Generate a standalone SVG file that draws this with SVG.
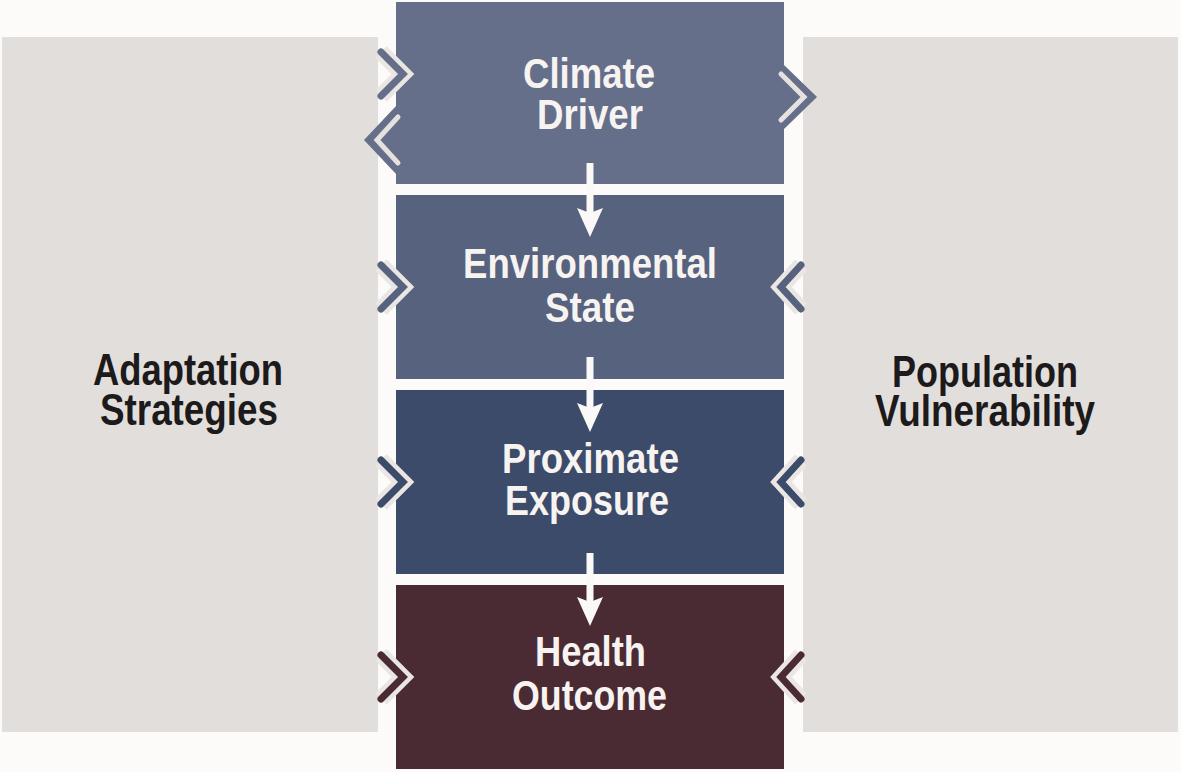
<svg xmlns="http://www.w3.org/2000/svg" width="1181" height="772" viewBox="0 0 1181 772">
<style>
.panel{fill:#e1dedc}
.lbl{font-family:"Liberation Sans",Arial,sans-serif;font-weight:bold;font-size:44px;fill:#1c1a1a}
.box-t{font-family:"Liberation Sans",Arial,sans-serif;font-weight:bold;font-size:43px;fill:#f7f3f1}
.halo-a{fill:none;stroke:#e9e6e4;stroke-width:16;stroke-linejoin:miter;stroke-linecap:butt}
.line-a{fill:none;stroke-width:7;stroke-linejoin:miter;stroke-linecap:round}
.tab-b{fill:#656f8a}
.line-b{fill:none;stroke:#e6e1df;stroke-width:5;stroke-linejoin:miter;stroke-linecap:round}
.arr-line{stroke:#fbf9f8;stroke-width:7}
.arr-head{fill:#fbf9f8}
</style>
<rect x="0" y="0" width="1181" height="772" fill="#fcfbfa"/>
<g id="adaptation-strategies">
<rect class="panel" x="2" y="37" width="376" height="695"/>
<text class="lbl" x="93" y="385" textLength="190" lengthAdjust="spacingAndGlyphs">Adaptation</text>
<text class="lbl" x="100" y="425" textLength="178" lengthAdjust="spacingAndGlyphs">Strategies</text>
</g>
<g id="population-vulnerability">
<rect class="panel" x="803" y="37" width="375" height="695"/>
<text class="lbl" x="892" y="387" textLength="186" lengthAdjust="spacingAndGlyphs">Population</text>
<text class="lbl" x="875" y="426" textLength="220" lengthAdjust="spacingAndGlyphs">Vulnerability</text>
</g>
<g id="climate-driver">
<rect x="396" y="2" width="388" height="182" fill="#656f8a"/>
<text class="box-t" x="523" y="88" textLength="132" lengthAdjust="spacingAndGlyphs">Climate</text>
<text class="box-t" x="537" y="129" textLength="106" lengthAdjust="spacingAndGlyphs">Driver</text>
</g>
<g id="environmental-state">
<rect x="396" y="195" width="388" height="184" fill="#57627f"/>
<text class="box-t" x="463" y="278" textLength="254" lengthAdjust="spacingAndGlyphs">Environmental</text>
<text class="box-t" x="545" y="322" textLength="90" lengthAdjust="spacingAndGlyphs">State</text>
</g>
<g id="proximate-exposure">
<rect x="396" y="390" width="388" height="184" fill="#3c4b69"/>
<text class="box-t" x="502" y="473" textLength="177" lengthAdjust="spacingAndGlyphs">Proximate</text>
<text class="box-t" x="505" y="515" textLength="164" lengthAdjust="spacingAndGlyphs">Exposure</text>
</g>
<g id="health-outcome">
<rect x="396" y="585" width="388" height="184" fill="#4a2a33"/>
<text class="box-t" x="535" y="666" textLength="111" lengthAdjust="spacingAndGlyphs" fill="#f6eeee">Health</text>
<text class="box-t" x="512" y="710" textLength="155" lengthAdjust="spacingAndGlyphs" fill="#f6eeee">Outcome</text>
</g>
<g id="connectors">
<line class="arr-line" x1="590" y1="163" x2="590" y2="215"/>
<polygon class="arr-head" points="590,237 577,208 590,213 603,208"/>
<line class="arr-line" x1="590" y1="357" x2="590" y2="410"/>
<polygon class="arr-head" points="590,432 577,403 590,408 603,403"/>
<line class="arr-line" x1="590" y1="553" x2="590" y2="603"/>
<polygon class="arr-head" points="590,626 577,597 590,602 603,597"/>
<polyline class="halo-a" points="381,52 403,74 381,96"/>
<polyline class="line-a" stroke="#656f8a" points="381,52 403,74 381,96"/>
<polygon class="tab-b" points="397,105 364,140 397,175"/>
<polyline class="line-b" points="398,117 377,140 398,163"/>
<polygon class="tab-b" points="783,64 817,97 783,130"/>
<polyline class="line-b" points="781,74 804,97 781,120"/>
<polyline class="halo-a" points="381,265 403,287 381,309"/>
<polyline class="line-a" stroke="#57627f" points="381,265 403,287 381,309"/>
<polyline class="halo-a" points="801,265 781,287 801,309"/>
<polyline class="line-a" stroke="#57627f" points="801,265 781,287 801,309"/>
<polyline class="halo-a" points="381,460 403,482 381,504"/>
<polyline class="line-a" stroke="#3c4b69" points="381,460 403,482 381,504"/>
<polyline class="halo-a" points="801,460 781,482 801,504"/>
<polyline class="line-a" stroke="#3c4b69" points="801,460 781,482 801,504"/>
<polyline class="halo-a" points="381,655 403,677 381,699"/>
<polyline class="line-a" stroke="#4a2a33" points="381,655 403,677 381,699"/>
<polyline class="halo-a" points="801,655 781,677 801,699"/>
<polyline class="line-a" stroke="#4a2a33" points="801,655 781,677 801,699"/>
</g>
</svg>
